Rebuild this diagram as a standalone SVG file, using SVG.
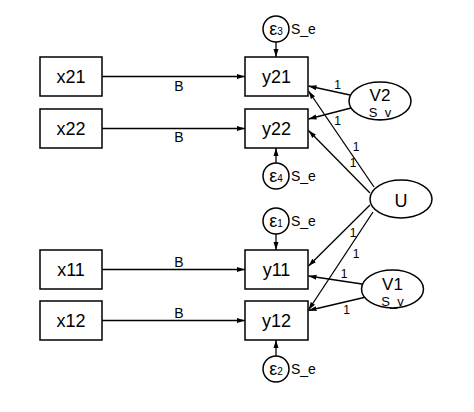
<svg xmlns="http://www.w3.org/2000/svg" width="474" height="412" viewBox="0 0 474 412">
<style>
.box{fill:#fff;stroke:#000;stroke-width:1.5}
.ell{fill:#fff;stroke:#000;stroke-width:1.5}
.ln{stroke:#000;stroke-width:1.3;fill:none;marker-end:url(#ah)}
text{font-family:"Liberation Sans",Arial,sans-serif;fill:#000}
.nm{font-size:18px;text-anchor:middle}
.vn{font-size:17px;text-anchor:middle}
.sm{font-size:14px}
.smc{font-size:13px;text-anchor:middle}
.lb{font-size:12px;text-anchor:middle}
.bl{font-size:14px;text-anchor:middle}
.eps{font-size:18px}
.sub{font-size:10px}
</style>
<defs>
<marker id="ah" markerUnits="userSpaceOnUse" markerWidth="8" markerHeight="6" refX="8" refY="3" orient="auto">
<path d="M0,0.5 L8,3 L0,5.5 z" fill="#000"/>
</marker>
</defs>
<rect width="474" height="412" fill="#fff"/>
<g id="connectors">
<line class="ln" x1="102" y1="76.5" x2="245" y2="76.5"/>
<line class="ln" x1="102" y1="128.5" x2="245" y2="128.5"/>
<line class="ln" x1="102" y1="269.5" x2="245" y2="269.5"/>
<line class="ln" x1="102" y1="320.5" x2="245" y2="320.5"/>
<line class="ln" x1="276" y1="42" x2="276" y2="57"/>
<line class="ln" x1="276" y1="163" x2="276" y2="148"/>
<line class="ln" x1="276" y1="234" x2="276" y2="250"/>
<line class="ln" x1="276" y1="356" x2="276" y2="340"/>
<line class="ln" x1="350" y1="95" x2="308.5" y2="86"/>
<line class="ln" x1="351" y1="108" x2="308.5" y2="119"/>
<line class="ln" x1="374" y1="187" x2="308.5" y2="91"/>
<line class="ln" x1="370" y1="193" x2="308.5" y2="130.5"/>
<line class="ln" x1="370" y1="205" x2="308.5" y2="266"/>
<line class="ln" x1="373" y1="212" x2="308.5" y2="310"/>
<line class="ln" x1="362" y1="284" x2="308.5" y2="276"/>
<line class="ln" x1="364" y1="297.5" x2="308.5" y2="310.5"/>
<text class="bl" x="179" y="91">B</text>
<text class="bl" x="179" y="142">B</text>
<text class="bl" x="179" y="267">B</text>
<text class="bl" x="179" y="318">B</text>
<text class="lb" x="337.5" y="89">1</text>
<text class="lb" x="337.5" y="125">1</text>
<text class="lb" x="356" y="151">1</text>
<text class="lb" x="353" y="167">1</text>
<text class="lb" x="353" y="237">1</text>
<text class="lb" x="356" y="258">1</text>
<text class="lb" x="344" y="278">1</text>
<text class="lb" x="346.5" y="314">1</text>
</g>
<g id="x21"><rect class="box" x="40" y="57" width="62" height="39"/><text class="nm" x="71" y="83">x21</text></g>
<g id="x22"><rect class="box" x="40" y="109" width="62" height="39"/><text class="nm" x="71" y="135">x22</text></g>
<g id="x11"><rect class="box" x="40" y="250" width="62" height="39"/><text class="nm" x="71" y="276">x11</text></g>
<g id="x12"><rect class="box" x="40" y="301" width="62" height="39"/><text class="nm" x="71" y="327">x12</text></g>
<g id="y21"><rect class="box" x="245" y="57" width="63" height="39"/><text class="nm" x="276.5" y="83">y21</text></g>
<g id="y22"><rect class="box" x="245" y="109" width="63" height="39"/><text class="nm" x="276.5" y="135">y22</text></g>
<g id="y11"><rect class="box" x="245" y="250" width="63" height="39"/><text class="nm" x="276.5" y="276">y11</text></g>
<g id="y12"><rect class="box" x="245" y="301" width="63" height="39"/><text class="nm" x="276.5" y="327">y12</text></g>
<g id="e3"><circle class="ell" cx="276" cy="29" r="13"/><text x="276" y="34.5" text-anchor="middle"><tspan class="eps">ε</tspan><tspan class="sub">3</tspan></text><text class="sm" x="291" y="34">S_e</text></g>
<g id="e4"><circle class="ell" cx="276" cy="176" r="13"/><text x="276" y="181.5" text-anchor="middle"><tspan class="eps">ε</tspan><tspan class="sub">4</tspan></text><text class="sm" x="291" y="181">S_e</text></g>
<g id="e1"><circle class="ell" cx="276" cy="221" r="13"/><text x="276" y="226.5" text-anchor="middle"><tspan class="eps">ε</tspan><tspan class="sub">1</tspan></text><text class="sm" x="291" y="226">S_e</text></g>
<g id="e2"><circle class="ell" cx="276" cy="369" r="13"/><text x="276" y="374.5" text-anchor="middle"><tspan class="eps">ε</tspan><tspan class="sub">2</tspan></text><text class="sm" x="291" y="374">S_e</text></g>
<g id="V2"><ellipse class="ell" cx="380" cy="101" rx="31" ry="19"/><text class="vn" x="380" y="101">V2</text><text class="smc" x="380" y="117">S_v</text></g>
<g id="U"><ellipse class="ell" cx="401" cy="199" rx="31" ry="19"/><text class="nm" x="401" y="206.5">U</text></g>
<g id="V1"><ellipse class="ell" cx="392.5" cy="289" rx="31" ry="19"/><text class="vn" x="392.5" y="289.5">V1</text><text class="smc" x="392.5" y="305.5">S_v</text></g>
</svg>
